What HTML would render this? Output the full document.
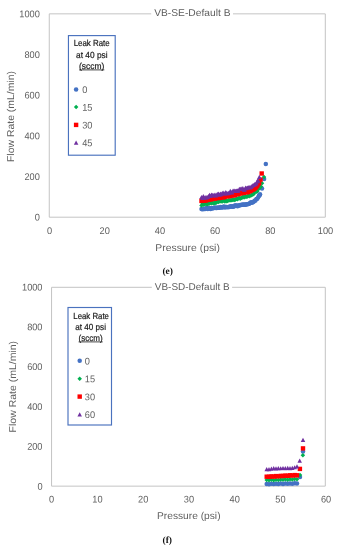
<!DOCTYPE html>
<html><head><meta charset="utf-8"><title>Flow rate charts</title>
<style>
html,body{margin:0;padding:0;background:#fff}
svg{display:block;font-family:"Liberation Sans",sans-serif;text-rendering:geometricPrecision}
</style></head><body>
<svg width="338" height="550" viewBox="0 0 338 550">
<rect width="338" height="550" fill="#fff"/>
<path d="M49.25 217.2V13.85H325.3V217.2H49.25" fill="none" stroke="#c4c4c4" stroke-width="1"/>
<rect x="151.2" y="7.85" width="81.80000000000001" height="10" fill="#fff"/>
<text x="154.2" y="16.3" font-size="9.9" fill="#5e5e5e" textLength="76.3" lengthAdjust="spacingAndGlyphs">VB-SE-Default B</text>
<text transform="translate(39.8 17.2) rotate(0.03) scale(0.95 1)" font-size="9.7" text-anchor="end" fill="#606060">1000</text>
<text transform="translate(39.8 57.9) rotate(0.03) scale(0.95 1)" font-size="9.7" text-anchor="end" fill="#606060">800</text>
<text transform="translate(39.8 98.6) rotate(0.03) scale(0.95 1)" font-size="9.7" text-anchor="end" fill="#606060">600</text>
<text transform="translate(39.8 139.3) rotate(0.03) scale(0.95 1)" font-size="9.7" text-anchor="end" fill="#606060">400</text>
<text transform="translate(39.8 179.9) rotate(0.03) scale(0.95 1)" font-size="9.7" text-anchor="end" fill="#606060">200</text>
<text transform="translate(39.8 220.6) rotate(0.03) scale(0.95 1)" font-size="9.7" text-anchor="end" fill="#606060">0</text>
<text transform="translate(49.5 234.1) rotate(0.03) scale(0.95 1)" font-size="9.7" text-anchor="middle" fill="#606060">0</text>
<text transform="translate(104.7 234.1) rotate(0.03) scale(0.95 1)" font-size="9.7" text-anchor="middle" fill="#606060">20</text>
<text transform="translate(159.9 234.1) rotate(0.03) scale(0.95 1)" font-size="9.7" text-anchor="middle" fill="#606060">40</text>
<text transform="translate(215.1 234.1) rotate(0.03) scale(0.95 1)" font-size="9.7" text-anchor="middle" fill="#606060">60</text>
<text transform="translate(270.3 234.1) rotate(0.03) scale(0.95 1)" font-size="9.7" text-anchor="middle" fill="#606060">80</text>
<text transform="translate(325.5 234.1) rotate(0.03) scale(0.95 1)" font-size="9.7" text-anchor="middle" fill="#606060">100</text>
<text x="187.6" y="250.5" font-size="9.9" text-anchor="middle" fill="#5e5e5e" textLength="64.5" lengthAdjust="spacingAndGlyphs">Pressure (psi)</text>
<text transform="translate(14.4 116.5) rotate(-90)" font-size="9.9" text-anchor="middle" fill="#5e5e5e" textLength="91" lengthAdjust="spacingAndGlyphs">Flow Rate (mL/min)</text>
<circle cx="201.5" cy="208.9" r="2.25" fill="#4472C4"/>
<circle cx="202.4" cy="209.2" r="2.25" fill="#4472C4"/>
<circle cx="203.3" cy="208.9" r="2.25" fill="#4472C4"/>
<circle cx="204.2" cy="209.0" r="2.25" fill="#4472C4"/>
<circle cx="205.1" cy="209.0" r="2.25" fill="#4472C4"/>
<circle cx="206.0" cy="208.2" r="2.25" fill="#4472C4"/>
<circle cx="206.9" cy="208.1" r="2.25" fill="#4472C4"/>
<circle cx="207.8" cy="208.9" r="2.25" fill="#4472C4"/>
<circle cx="208.7" cy="208.2" r="2.25" fill="#4472C4"/>
<circle cx="209.6" cy="208.0" r="2.25" fill="#4472C4"/>
<circle cx="210.5" cy="208.9" r="2.25" fill="#4472C4"/>
<circle cx="211.4" cy="208.1" r="2.25" fill="#4472C4"/>
<circle cx="212.3" cy="208.5" r="2.25" fill="#4472C4"/>
<circle cx="213.2" cy="208.0" r="2.25" fill="#4472C4"/>
<circle cx="214.1" cy="208.1" r="2.25" fill="#4472C4"/>
<circle cx="215.0" cy="207.4" r="2.25" fill="#4472C4"/>
<circle cx="215.9" cy="207.9" r="2.25" fill="#4472C4"/>
<circle cx="216.8" cy="208.1" r="2.25" fill="#4472C4"/>
<circle cx="217.7" cy="207.6" r="2.25" fill="#4472C4"/>
<circle cx="218.6" cy="207.8" r="2.25" fill="#4472C4"/>
<circle cx="219.5" cy="207.7" r="2.25" fill="#4472C4"/>
<circle cx="220.4" cy="206.9" r="2.25" fill="#4472C4"/>
<circle cx="221.3" cy="207.6" r="2.25" fill="#4472C4"/>
<circle cx="222.2" cy="207.4" r="2.25" fill="#4472C4"/>
<circle cx="223.1" cy="206.9" r="2.25" fill="#4472C4"/>
<circle cx="224.0" cy="206.5" r="2.25" fill="#4472C4"/>
<circle cx="224.9" cy="207.4" r="2.25" fill="#4472C4"/>
<circle cx="225.8" cy="206.9" r="2.25" fill="#4472C4"/>
<circle cx="226.7" cy="207.1" r="2.25" fill="#4472C4"/>
<circle cx="227.6" cy="207.2" r="2.25" fill="#4472C4"/>
<circle cx="228.5" cy="206.9" r="2.25" fill="#4472C4"/>
<circle cx="229.4" cy="207.1" r="2.25" fill="#4472C4"/>
<circle cx="230.3" cy="206.3" r="2.25" fill="#4472C4"/>
<circle cx="231.2" cy="206.7" r="2.25" fill="#4472C4"/>
<circle cx="232.1" cy="206.2" r="2.25" fill="#4472C4"/>
<circle cx="233.0" cy="206.7" r="2.25" fill="#4472C4"/>
<circle cx="233.9" cy="206.6" r="2.25" fill="#4472C4"/>
<circle cx="234.8" cy="205.5" r="2.25" fill="#4472C4"/>
<circle cx="235.7" cy="205.5" r="2.25" fill="#4472C4"/>
<circle cx="236.6" cy="205.4" r="2.25" fill="#4472C4"/>
<circle cx="237.5" cy="206.2" r="2.25" fill="#4472C4"/>
<circle cx="238.4" cy="205.4" r="2.25" fill="#4472C4"/>
<circle cx="239.3" cy="205.5" r="2.25" fill="#4472C4"/>
<circle cx="240.2" cy="204.9" r="2.25" fill="#4472C4"/>
<circle cx="241.1" cy="205.0" r="2.25" fill="#4472C4"/>
<circle cx="242.0" cy="204.7" r="2.25" fill="#4472C4"/>
<circle cx="242.9" cy="204.6" r="2.25" fill="#4472C4"/>
<circle cx="243.8" cy="204.7" r="2.25" fill="#4472C4"/>
<circle cx="244.7" cy="204.5" r="2.25" fill="#4472C4"/>
<circle cx="245.6" cy="204.7" r="2.25" fill="#4472C4"/>
<circle cx="246.5" cy="204.2" r="2.25" fill="#4472C4"/>
<circle cx="247.4" cy="204.2" r="2.25" fill="#4472C4"/>
<circle cx="248.3" cy="203.9" r="2.25" fill="#4472C4"/>
<circle cx="249.2" cy="203.8" r="2.25" fill="#4472C4"/>
<circle cx="250.1" cy="203.1" r="2.25" fill="#4472C4"/>
<circle cx="251.0" cy="202.2" r="2.25" fill="#4472C4"/>
<circle cx="251.9" cy="202.8" r="2.25" fill="#4472C4"/>
<circle cx="252.8" cy="202.3" r="2.25" fill="#4472C4"/>
<circle cx="253.7" cy="201.7" r="2.25" fill="#4472C4"/>
<circle cx="254.6" cy="200.7" r="2.25" fill="#4472C4"/>
<circle cx="255.5" cy="200.4" r="2.25" fill="#4472C4"/>
<circle cx="256.4" cy="199.0" r="2.25" fill="#4472C4"/>
<circle cx="257.3" cy="198.7" r="2.25" fill="#4472C4"/>
<circle cx="258.2" cy="197.3" r="2.25" fill="#4472C4"/>
<circle cx="259.1" cy="195.4" r="2.25" fill="#4472C4"/>
<circle cx="260.0" cy="194.3" r="2.25" fill="#4472C4"/>
<circle cx="259.6" cy="195.2" r="2.25" fill="#4472C4"/>
<circle cx="262.0" cy="188.5" r="2.25" fill="#4472C4"/>
<circle cx="264.1" cy="179.1" r="2.25" fill="#4472C4"/>
<circle cx="265.8" cy="164.0" r="2.25" fill="#4472C4"/>
<path d="M201.5 203.2l2.25 2.25l-2.25 2.25l-2.25 -2.25z" fill="#00B050"/>
<path d="M202.4 201.8l2.25 2.25l-2.25 2.25l-2.25 -2.25z" fill="#00B050"/>
<path d="M203.3 202.6l2.25 2.25l-2.25 2.25l-2.25 -2.25z" fill="#00B050"/>
<path d="M204.2 201.9l2.25 2.25l-2.25 2.25l-2.25 -2.25z" fill="#00B050"/>
<path d="M205.1 201.4l2.25 2.25l-2.25 2.25l-2.25 -2.25z" fill="#00B050"/>
<path d="M206.0 201.4l2.25 2.25l-2.25 2.25l-2.25 -2.25z" fill="#00B050"/>
<path d="M206.9 201.9l2.25 2.25l-2.25 2.25l-2.25 -2.25z" fill="#00B050"/>
<path d="M207.8 201.9l2.25 2.25l-2.25 2.25l-2.25 -2.25z" fill="#00B050"/>
<path d="M208.7 200.6l2.25 2.25l-2.25 2.25l-2.25 -2.25z" fill="#00B050"/>
<path d="M209.6 201.2l2.25 2.25l-2.25 2.25l-2.25 -2.25z" fill="#00B050"/>
<path d="M210.5 200.3l2.25 2.25l-2.25 2.25l-2.25 -2.25z" fill="#00B050"/>
<path d="M211.4 201.0l2.25 2.25l-2.25 2.25l-2.25 -2.25z" fill="#00B050"/>
<path d="M212.3 200.3l2.25 2.25l-2.25 2.25l-2.25 -2.25z" fill="#00B050"/>
<path d="M213.2 201.0l2.25 2.25l-2.25 2.25l-2.25 -2.25z" fill="#00B050"/>
<path d="M214.1 201.0l2.25 2.25l-2.25 2.25l-2.25 -2.25z" fill="#00B050"/>
<path d="M215.0 200.2l2.25 2.25l-2.25 2.25l-2.25 -2.25z" fill="#00B050"/>
<path d="M215.9 200.7l2.25 2.25l-2.25 2.25l-2.25 -2.25z" fill="#00B050"/>
<path d="M216.8 199.6l2.25 2.25l-2.25 2.25l-2.25 -2.25z" fill="#00B050"/>
<path d="M217.7 199.2l2.25 2.25l-2.25 2.25l-2.25 -2.25z" fill="#00B050"/>
<path d="M218.6 199.8l2.25 2.25l-2.25 2.25l-2.25 -2.25z" fill="#00B050"/>
<path d="M219.5 198.8l2.25 2.25l-2.25 2.25l-2.25 -2.25z" fill="#00B050"/>
<path d="M220.4 198.9l2.25 2.25l-2.25 2.25l-2.25 -2.25z" fill="#00B050"/>
<path d="M221.3 199.1l2.25 2.25l-2.25 2.25l-2.25 -2.25z" fill="#00B050"/>
<path d="M222.2 199.3l2.25 2.25l-2.25 2.25l-2.25 -2.25z" fill="#00B050"/>
<path d="M223.1 198.5l2.25 2.25l-2.25 2.25l-2.25 -2.25z" fill="#00B050"/>
<path d="M224.0 198.2l2.25 2.25l-2.25 2.25l-2.25 -2.25z" fill="#00B050"/>
<path d="M224.9 199.2l2.25 2.25l-2.25 2.25l-2.25 -2.25z" fill="#00B050"/>
<path d="M225.8 198.3l2.25 2.25l-2.25 2.25l-2.25 -2.25z" fill="#00B050"/>
<path d="M226.7 199.1l2.25 2.25l-2.25 2.25l-2.25 -2.25z" fill="#00B050"/>
<path d="M227.6 198.8l2.25 2.25l-2.25 2.25l-2.25 -2.25z" fill="#00B050"/>
<path d="M228.5 198.0l2.25 2.25l-2.25 2.25l-2.25 -2.25z" fill="#00B050"/>
<path d="M229.4 198.0l2.25 2.25l-2.25 2.25l-2.25 -2.25z" fill="#00B050"/>
<path d="M230.3 197.9l2.25 2.25l-2.25 2.25l-2.25 -2.25z" fill="#00B050"/>
<path d="M231.2 197.9l2.25 2.25l-2.25 2.25l-2.25 -2.25z" fill="#00B050"/>
<path d="M232.1 197.7l2.25 2.25l-2.25 2.25l-2.25 -2.25z" fill="#00B050"/>
<path d="M233.0 197.5l2.25 2.25l-2.25 2.25l-2.25 -2.25z" fill="#00B050"/>
<path d="M233.9 197.5l2.25 2.25l-2.25 2.25l-2.25 -2.25z" fill="#00B050"/>
<path d="M234.8 197.8l2.25 2.25l-2.25 2.25l-2.25 -2.25z" fill="#00B050"/>
<path d="M235.7 197.0l2.25 2.25l-2.25 2.25l-2.25 -2.25z" fill="#00B050"/>
<path d="M236.6 196.7l2.25 2.25l-2.25 2.25l-2.25 -2.25z" fill="#00B050"/>
<path d="M237.5 196.9l2.25 2.25l-2.25 2.25l-2.25 -2.25z" fill="#00B050"/>
<path d="M238.4 196.0l2.25 2.25l-2.25 2.25l-2.25 -2.25z" fill="#00B050"/>
<path d="M239.3 195.8l2.25 2.25l-2.25 2.25l-2.25 -2.25z" fill="#00B050"/>
<path d="M240.2 196.6l2.25 2.25l-2.25 2.25l-2.25 -2.25z" fill="#00B050"/>
<path d="M241.1 195.7l2.25 2.25l-2.25 2.25l-2.25 -2.25z" fill="#00B050"/>
<path d="M242.0 195.5l2.25 2.25l-2.25 2.25l-2.25 -2.25z" fill="#00B050"/>
<path d="M242.9 194.6l2.25 2.25l-2.25 2.25l-2.25 -2.25z" fill="#00B050"/>
<path d="M243.8 194.9l2.25 2.25l-2.25 2.25l-2.25 -2.25z" fill="#00B050"/>
<path d="M244.7 194.9l2.25 2.25l-2.25 2.25l-2.25 -2.25z" fill="#00B050"/>
<path d="M245.6 193.9l2.25 2.25l-2.25 2.25l-2.25 -2.25z" fill="#00B050"/>
<path d="M246.5 194.5l2.25 2.25l-2.25 2.25l-2.25 -2.25z" fill="#00B050"/>
<path d="M247.4 194.3l2.25 2.25l-2.25 2.25l-2.25 -2.25z" fill="#00B050"/>
<path d="M248.3 193.3l2.25 2.25l-2.25 2.25l-2.25 -2.25z" fill="#00B050"/>
<path d="M249.2 193.9l2.25 2.25l-2.25 2.25l-2.25 -2.25z" fill="#00B050"/>
<path d="M250.1 193.3l2.25 2.25l-2.25 2.25l-2.25 -2.25z" fill="#00B050"/>
<path d="M251.0 193.2l2.25 2.25l-2.25 2.25l-2.25 -2.25z" fill="#00B050"/>
<path d="M251.9 192.4l2.25 2.25l-2.25 2.25l-2.25 -2.25z" fill="#00B050"/>
<path d="M252.8 192.3l2.25 2.25l-2.25 2.25l-2.25 -2.25z" fill="#00B050"/>
<path d="M253.7 191.7l2.25 2.25l-2.25 2.25l-2.25 -2.25z" fill="#00B050"/>
<path d="M254.6 190.0l2.25 2.25l-2.25 2.25l-2.25 -2.25z" fill="#00B050"/>
<path d="M255.5 189.3l2.25 2.25l-2.25 2.25l-2.25 -2.25z" fill="#00B050"/>
<path d="M256.4 189.4l2.25 2.25l-2.25 2.25l-2.25 -2.25z" fill="#00B050"/>
<path d="M257.3 188.9l2.25 2.25l-2.25 2.25l-2.25 -2.25z" fill="#00B050"/>
<path d="M258.2 187.0l2.25 2.25l-2.25 2.25l-2.25 -2.25z" fill="#00B050"/>
<path d="M259.1 186.0l2.25 2.25l-2.25 2.25l-2.25 -2.25z" fill="#00B050"/>
<path d="M260.0 185.0l2.25 2.25l-2.25 2.25l-2.25 -2.25z" fill="#00B050"/>
<path d="M260.9 184.3l2.25 2.25l-2.25 2.25l-2.25 -2.25z" fill="#00B050"/>
<path d="M260.2 184.4l2.25 2.25l-2.25 2.25l-2.25 -2.25z" fill="#00B050"/>
<path d="M262.0 181.1l2.25 2.25l-2.25 2.25l-2.25 -2.25z" fill="#00B050"/>
<path d="M264.0 174.7l2.25 2.25l-2.25 2.25l-2.25 -2.25z" fill="#00B050"/>
<rect x="199.3" y="198.7" width="4.4" height="4.4" fill="#FF0000"/>
<rect x="200.2" y="198.6" width="4.4" height="4.4" fill="#FF0000"/>
<rect x="201.1" y="198.6" width="4.4" height="4.4" fill="#FF0000"/>
<rect x="202.0" y="198.1" width="4.4" height="4.4" fill="#FF0000"/>
<rect x="202.9" y="198.0" width="4.4" height="4.4" fill="#FF0000"/>
<rect x="203.8" y="198.2" width="4.4" height="4.4" fill="#FF0000"/>
<rect x="204.7" y="197.3" width="4.4" height="4.4" fill="#FF0000"/>
<rect x="205.6" y="197.7" width="4.4" height="4.4" fill="#FF0000"/>
<rect x="206.5" y="197.6" width="4.4" height="4.4" fill="#FF0000"/>
<rect x="207.4" y="197.0" width="4.4" height="4.4" fill="#FF0000"/>
<rect x="208.3" y="196.7" width="4.4" height="4.4" fill="#FF0000"/>
<rect x="209.2" y="197.1" width="4.4" height="4.4" fill="#FF0000"/>
<rect x="210.1" y="196.4" width="4.4" height="4.4" fill="#FF0000"/>
<rect x="211.0" y="196.2" width="4.4" height="4.4" fill="#FF0000"/>
<rect x="211.9" y="196.2" width="4.4" height="4.4" fill="#FF0000"/>
<rect x="212.8" y="196.4" width="4.4" height="4.4" fill="#FF0000"/>
<rect x="213.7" y="195.6" width="4.4" height="4.4" fill="#FF0000"/>
<rect x="214.6" y="195.7" width="4.4" height="4.4" fill="#FF0000"/>
<rect x="215.5" y="195.5" width="4.4" height="4.4" fill="#FF0000"/>
<rect x="216.4" y="195.9" width="4.4" height="4.4" fill="#FF0000"/>
<rect x="217.3" y="195.3" width="4.4" height="4.4" fill="#FF0000"/>
<rect x="218.2" y="195.6" width="4.4" height="4.4" fill="#FF0000"/>
<rect x="219.1" y="194.7" width="4.4" height="4.4" fill="#FF0000"/>
<rect x="220.0" y="194.7" width="4.4" height="4.4" fill="#FF0000"/>
<rect x="220.9" y="194.9" width="4.4" height="4.4" fill="#FF0000"/>
<rect x="221.8" y="195.0" width="4.4" height="4.4" fill="#FF0000"/>
<rect x="222.7" y="194.4" width="4.4" height="4.4" fill="#FF0000"/>
<rect x="223.6" y="194.0" width="4.4" height="4.4" fill="#FF0000"/>
<rect x="224.5" y="193.7" width="4.4" height="4.4" fill="#FF0000"/>
<rect x="225.4" y="193.9" width="4.4" height="4.4" fill="#FF0000"/>
<rect x="226.3" y="193.4" width="4.4" height="4.4" fill="#FF0000"/>
<rect x="227.2" y="193.9" width="4.4" height="4.4" fill="#FF0000"/>
<rect x="228.1" y="193.7" width="4.4" height="4.4" fill="#FF0000"/>
<rect x="229.0" y="192.9" width="4.4" height="4.4" fill="#FF0000"/>
<rect x="229.9" y="192.8" width="4.4" height="4.4" fill="#FF0000"/>
<rect x="230.8" y="193.2" width="4.4" height="4.4" fill="#FF0000"/>
<rect x="231.7" y="192.9" width="4.4" height="4.4" fill="#FF0000"/>
<rect x="232.6" y="192.8" width="4.4" height="4.4" fill="#FF0000"/>
<rect x="233.5" y="192.2" width="4.4" height="4.4" fill="#FF0000"/>
<rect x="234.4" y="191.7" width="4.4" height="4.4" fill="#FF0000"/>
<rect x="235.3" y="191.7" width="4.4" height="4.4" fill="#FF0000"/>
<rect x="236.2" y="191.9" width="4.4" height="4.4" fill="#FF0000"/>
<rect x="237.1" y="191.2" width="4.4" height="4.4" fill="#FF0000"/>
<rect x="238.0" y="191.0" width="4.4" height="4.4" fill="#FF0000"/>
<rect x="238.9" y="190.9" width="4.4" height="4.4" fill="#FF0000"/>
<rect x="239.8" y="190.7" width="4.4" height="4.4" fill="#FF0000"/>
<rect x="240.7" y="190.4" width="4.4" height="4.4" fill="#FF0000"/>
<rect x="241.6" y="190.7" width="4.4" height="4.4" fill="#FF0000"/>
<rect x="242.5" y="189.7" width="4.4" height="4.4" fill="#FF0000"/>
<rect x="243.4" y="189.4" width="4.4" height="4.4" fill="#FF0000"/>
<rect x="244.3" y="190.1" width="4.4" height="4.4" fill="#FF0000"/>
<rect x="245.2" y="189.8" width="4.4" height="4.4" fill="#FF0000"/>
<rect x="246.1" y="189.7" width="4.4" height="4.4" fill="#FF0000"/>
<rect x="247.0" y="188.8" width="4.4" height="4.4" fill="#FF0000"/>
<rect x="247.9" y="188.9" width="4.4" height="4.4" fill="#FF0000"/>
<rect x="248.8" y="188.4" width="4.4" height="4.4" fill="#FF0000"/>
<rect x="249.7" y="187.3" width="4.4" height="4.4" fill="#FF0000"/>
<rect x="250.6" y="187.3" width="4.4" height="4.4" fill="#FF0000"/>
<rect x="251.5" y="186.9" width="4.4" height="4.4" fill="#FF0000"/>
<rect x="252.4" y="186.2" width="4.4" height="4.4" fill="#FF0000"/>
<rect x="253.3" y="185.5" width="4.4" height="4.4" fill="#FF0000"/>
<rect x="254.2" y="184.3" width="4.4" height="4.4" fill="#FF0000"/>
<rect x="255.1" y="183.4" width="4.4" height="4.4" fill="#FF0000"/>
<rect x="256.0" y="181.8" width="4.4" height="4.4" fill="#FF0000"/>
<rect x="256.9" y="180.4" width="4.4" height="4.4" fill="#FF0000"/>
<rect x="256.7" y="180.9" width="4.4" height="4.4" fill="#FF0000"/>
<rect x="258.3" y="177.4" width="4.4" height="4.4" fill="#FF0000"/>
<rect x="259.5" y="171.3" width="4.4" height="4.4" fill="#FF0000"/>
<path d="M201.5 195.0l2.25 4.1h-4.5z" fill="#7030A0"/>
<path d="M202.4 195.9l2.25 4.1h-4.5z" fill="#7030A0"/>
<path d="M203.3 194.1l2.25 4.1h-4.5z" fill="#7030A0"/>
<path d="M204.2 195.7l2.25 4.1h-4.5z" fill="#7030A0"/>
<path d="M205.1 195.1l2.25 4.1h-4.5z" fill="#7030A0"/>
<path d="M206.0 195.4l2.25 4.1h-4.5z" fill="#7030A0"/>
<path d="M206.9 195.1l2.25 4.1h-4.5z" fill="#7030A0"/>
<path d="M207.8 194.9l2.25 4.1h-4.5z" fill="#7030A0"/>
<path d="M208.7 194.0l2.25 4.1h-4.5z" fill="#7030A0"/>
<path d="M209.6 192.7l2.25 4.1h-4.5z" fill="#7030A0"/>
<path d="M210.5 194.0l2.25 4.1h-4.5z" fill="#7030A0"/>
<path d="M211.4 192.6l2.25 4.1h-4.5z" fill="#7030A0"/>
<path d="M212.3 192.7l2.25 4.1h-4.5z" fill="#7030A0"/>
<path d="M213.2 193.3l2.25 4.1h-4.5z" fill="#7030A0"/>
<path d="M214.1 192.8l2.25 4.1h-4.5z" fill="#7030A0"/>
<path d="M215.0 192.4l2.25 4.1h-4.5z" fill="#7030A0"/>
<path d="M215.9 193.4l2.25 4.1h-4.5z" fill="#7030A0"/>
<path d="M216.8 192.5l2.25 4.1h-4.5z" fill="#7030A0"/>
<path d="M217.7 191.8l2.25 4.1h-4.5z" fill="#7030A0"/>
<path d="M218.6 191.5l2.25 4.1h-4.5z" fill="#7030A0"/>
<path d="M219.5 192.6l2.25 4.1h-4.5z" fill="#7030A0"/>
<path d="M220.4 191.6l2.25 4.1h-4.5z" fill="#7030A0"/>
<path d="M221.3 192.1l2.25 4.1h-4.5z" fill="#7030A0"/>
<path d="M222.2 191.0l2.25 4.1h-4.5z" fill="#7030A0"/>
<path d="M223.1 190.6l2.25 4.1h-4.5z" fill="#7030A0"/>
<path d="M224.0 191.1l2.25 4.1h-4.5z" fill="#7030A0"/>
<path d="M224.9 191.5l2.25 4.1h-4.5z" fill="#7030A0"/>
<path d="M225.8 190.0l2.25 4.1h-4.5z" fill="#7030A0"/>
<path d="M226.7 191.1l2.25 4.1h-4.5z" fill="#7030A0"/>
<path d="M227.6 191.2l2.25 4.1h-4.5z" fill="#7030A0"/>
<path d="M228.5 190.8l2.25 4.1h-4.5z" fill="#7030A0"/>
<path d="M229.4 190.7l2.25 4.1h-4.5z" fill="#7030A0"/>
<path d="M230.3 188.8l2.25 4.1h-4.5z" fill="#7030A0"/>
<path d="M231.2 189.9l2.25 4.1h-4.5z" fill="#7030A0"/>
<path d="M232.1 190.3l2.25 4.1h-4.5z" fill="#7030A0"/>
<path d="M233.0 188.4l2.25 4.1h-4.5z" fill="#7030A0"/>
<path d="M233.9 188.7l2.25 4.1h-4.5z" fill="#7030A0"/>
<path d="M234.8 188.5l2.25 4.1h-4.5z" fill="#7030A0"/>
<path d="M235.7 188.8l2.25 4.1h-4.5z" fill="#7030A0"/>
<path d="M236.6 188.4l2.25 4.1h-4.5z" fill="#7030A0"/>
<path d="M237.5 188.3l2.25 4.1h-4.5z" fill="#7030A0"/>
<path d="M238.4 188.7l2.25 4.1h-4.5z" fill="#7030A0"/>
<path d="M239.3 186.8l2.25 4.1h-4.5z" fill="#7030A0"/>
<path d="M240.2 186.7l2.25 4.1h-4.5z" fill="#7030A0"/>
<path d="M241.1 186.6l2.25 4.1h-4.5z" fill="#7030A0"/>
<path d="M242.0 186.4l2.25 4.1h-4.5z" fill="#7030A0"/>
<path d="M242.9 186.1l2.25 4.1h-4.5z" fill="#7030A0"/>
<path d="M243.8 187.7l2.25 4.1h-4.5z" fill="#7030A0"/>
<path d="M244.7 187.3l2.25 4.1h-4.5z" fill="#7030A0"/>
<path d="M245.6 185.4l2.25 4.1h-4.5z" fill="#7030A0"/>
<path d="M246.5 186.1l2.25 4.1h-4.5z" fill="#7030A0"/>
<path d="M247.4 185.4l2.25 4.1h-4.5z" fill="#7030A0"/>
<path d="M248.3 185.2l2.25 4.1h-4.5z" fill="#7030A0"/>
<path d="M249.2 185.0l2.25 4.1h-4.5z" fill="#7030A0"/>
<path d="M250.1 185.3l2.25 4.1h-4.5z" fill="#7030A0"/>
<path d="M251.0 184.8l2.25 4.1h-4.5z" fill="#7030A0"/>
<path d="M251.9 184.0l2.25 4.1h-4.5z" fill="#7030A0"/>
<path d="M252.8 183.2l2.25 4.1h-4.5z" fill="#7030A0"/>
<path d="M253.7 182.9l2.25 4.1h-4.5z" fill="#7030A0"/>
<path d="M254.6 181.9l2.25 4.1h-4.5z" fill="#7030A0"/>
<path d="M255.5 182.1l2.25 4.1h-4.5z" fill="#7030A0"/>
<path d="M256.4 181.2l2.25 4.1h-4.5z" fill="#7030A0"/>
<path d="M257.3 179.3l2.25 4.1h-4.5z" fill="#7030A0"/>
<path d="M258.2 178.4l2.25 4.1h-4.5z" fill="#7030A0"/>
<path d="M257.5 178.6l2.25 4.1h-4.5z" fill="#7030A0"/>
<path d="M259.3 174.8l2.25 4.1h-4.5z" fill="#7030A0"/>
<rect x="68.45" y="35.6" width="46.75" height="119.6" fill="#fff" stroke="#4a72be" stroke-width="1.15"/>
<text x="73.7" y="46.3" font-size="8.8" fill="#1a1a1a" stroke="#1a1a1a" stroke-width="0.2" textLength="36.0" lengthAdjust="spacingAndGlyphs">Leak Rate</text>
<text x="76.1" y="57.7" font-size="8.8" fill="#1a1a1a" stroke="#1a1a1a" stroke-width="0.2" textLength="31.5" lengthAdjust="spacingAndGlyphs">at 40 psi</text>
<text x="79" y="68.5" font-size="8.8" fill="#1a1a1a" stroke="#1a1a1a" stroke-width="0.2" textLength="25.3" lengthAdjust="spacingAndGlyphs">(sccm)</text>
<path d="M79 69.9H104.3" stroke="#1a1a1a" stroke-width="0.8"/>
<circle cx="76.1" cy="89.5" r="2.25" fill="#4472C4"/>
<text transform="translate(82.2 93.1) rotate(0.03) scale(0.95 1)" font-size="9.7" text-anchor="start" fill="#606060">0</text>
<path d="M76.1 104.8l2.25 2.25l-2.25 2.25l-2.25 -2.25z" fill="#00B050"/>
<text transform="translate(82.2 110.7) rotate(0.03) scale(0.95 1)" font-size="9.7" text-anchor="start" fill="#606060">15</text>
<rect x="73.9" y="122.7" width="4.4" height="4.4" fill="#FF0000"/>
<text transform="translate(82.2 128.5) rotate(0.03) scale(0.95 1)" font-size="9.7" text-anchor="start" fill="#606060">30</text>
<path d="M76.1 140.6l2.25 4.1h-4.5z" fill="#7030A0"/>
<text transform="translate(82.2 146.3) rotate(0.03) scale(0.95 1)" font-size="9.7" text-anchor="start" fill="#606060">45</text>
<text x="167.7" y="273.7" font-size="9.5" font-weight="bold" text-anchor="middle" fill="#111" font-family="'Liberation Serif',serif">(e)</text>
<path d="M51.55 486.15V287.3H325.3V486.15H51.55" fill="none" stroke="#c4c4c4" stroke-width="1"/>
<rect x="151.8" y="281.3" width="80.29999999999998" height="10" fill="#fff"/>
<text x="154.8" y="289.7" font-size="9.9" fill="#5e5e5e" textLength="74.8" lengthAdjust="spacingAndGlyphs">VB-SD-Default B</text>
<text transform="translate(42.5 290.4) rotate(0.03) scale(0.95 1)" font-size="9.7" text-anchor="end" fill="#606060">1000</text>
<text transform="translate(42.5 330.2) rotate(0.03) scale(0.95 1)" font-size="9.7" text-anchor="end" fill="#606060">800</text>
<text transform="translate(42.5 370.1) rotate(0.03) scale(0.95 1)" font-size="9.7" text-anchor="end" fill="#606060">600</text>
<text transform="translate(42.5 410.0) rotate(0.03) scale(0.95 1)" font-size="9.7" text-anchor="end" fill="#606060">400</text>
<text transform="translate(42.5 449.8) rotate(0.03) scale(0.95 1)" font-size="9.7" text-anchor="end" fill="#606060">200</text>
<text transform="translate(42.5 489.7) rotate(0.03) scale(0.95 1)" font-size="9.7" text-anchor="end" fill="#606060">0</text>
<text transform="translate(51.6 502.6) rotate(0.03) scale(0.95 1)" font-size="9.7" text-anchor="middle" fill="#606060">0</text>
<text transform="translate(97.4 502.6) rotate(0.03) scale(0.95 1)" font-size="9.7" text-anchor="middle" fill="#606060">10</text>
<text transform="translate(143.2 502.6) rotate(0.03) scale(0.95 1)" font-size="9.7" text-anchor="middle" fill="#606060">20</text>
<text transform="translate(188.9 502.6) rotate(0.03) scale(0.95 1)" font-size="9.7" text-anchor="middle" fill="#606060">30</text>
<text transform="translate(234.7 502.6) rotate(0.03) scale(0.95 1)" font-size="9.7" text-anchor="middle" fill="#606060">40</text>
<text transform="translate(280.4 502.6) rotate(0.03) scale(0.95 1)" font-size="9.7" text-anchor="middle" fill="#606060">50</text>
<text transform="translate(326.1 502.6) rotate(0.03) scale(0.95 1)" font-size="9.7" text-anchor="middle" fill="#606060">60</text>
<text x="188.8" y="518.7" font-size="9.9" text-anchor="middle" fill="#5e5e5e" textLength="63.5" lengthAdjust="spacingAndGlyphs">Pressure (psi)</text>
<text transform="translate(16.4 386.7) rotate(-90)" font-size="9.9" text-anchor="middle" fill="#5e5e5e" textLength="91.4" lengthAdjust="spacingAndGlyphs">Flow Rate (mL/min)</text>
<circle cx="266.7" cy="483.9" r="2.25" fill="#4472C4"/>
<circle cx="269.0" cy="484.2" r="2.25" fill="#4472C4"/>
<circle cx="271.4" cy="483.8" r="2.25" fill="#4472C4"/>
<circle cx="273.7" cy="484.1" r="2.25" fill="#4472C4"/>
<circle cx="276.0" cy="483.7" r="2.25" fill="#4472C4"/>
<circle cx="278.3" cy="484.0" r="2.25" fill="#4472C4"/>
<circle cx="280.7" cy="483.6" r="2.25" fill="#4472C4"/>
<circle cx="283.0" cy="483.9" r="2.25" fill="#4472C4"/>
<circle cx="285.3" cy="483.5" r="2.25" fill="#4472C4"/>
<circle cx="287.7" cy="483.8" r="2.25" fill="#4472C4"/>
<circle cx="290.0" cy="483.4" r="2.25" fill="#4472C4"/>
<circle cx="292.3" cy="483.7" r="2.25" fill="#4472C4"/>
<circle cx="294.7" cy="483.3" r="2.25" fill="#4472C4"/>
<circle cx="297.0" cy="483.6" r="2.25" fill="#4472C4"/>
<circle cx="300.0" cy="477.0" r="2.25" fill="#4472C4"/>
<circle cx="303.0" cy="451.6" r="2.25" fill="#4472C4"/>
<path d="M266.7 477.8l2.25 2.25l-2.25 2.25l-2.25 -2.25z" fill="#00B050"/>
<path d="M269.0 478.1l2.25 2.25l-2.25 2.25l-2.25 -2.25z" fill="#00B050"/>
<path d="M271.4 477.6l2.25 2.25l-2.25 2.25l-2.25 -2.25z" fill="#00B050"/>
<path d="M273.7 477.9l2.25 2.25l-2.25 2.25l-2.25 -2.25z" fill="#00B050"/>
<path d="M276.0 477.4l2.25 2.25l-2.25 2.25l-2.25 -2.25z" fill="#00B050"/>
<path d="M278.3 477.7l2.25 2.25l-2.25 2.25l-2.25 -2.25z" fill="#00B050"/>
<path d="M280.7 477.2l2.25 2.25l-2.25 2.25l-2.25 -2.25z" fill="#00B050"/>
<path d="M283.0 477.6l2.25 2.25l-2.25 2.25l-2.25 -2.25z" fill="#00B050"/>
<path d="M285.3 477.1l2.25 2.25l-2.25 2.25l-2.25 -2.25z" fill="#00B050"/>
<path d="M287.7 477.4l2.25 2.25l-2.25 2.25l-2.25 -2.25z" fill="#00B050"/>
<path d="M290.0 476.9l2.25 2.25l-2.25 2.25l-2.25 -2.25z" fill="#00B050"/>
<path d="M292.3 477.2l2.25 2.25l-2.25 2.25l-2.25 -2.25z" fill="#00B050"/>
<path d="M294.7 476.7l2.25 2.25l-2.25 2.25l-2.25 -2.25z" fill="#00B050"/>
<path d="M297.0 477.1l2.25 2.25l-2.25 2.25l-2.25 -2.25z" fill="#00B050"/>
<path d="M300.0 472.8l2.25 2.25l-2.25 2.25l-2.25 -2.25z" fill="#00B050"/>
<path d="M302.9 453.1l2.25 2.25l-2.25 2.25l-2.25 -2.25z" fill="#00B050"/>
<rect x="264.5" y="474.5" width="4.4" height="4.4" fill="#FF0000"/>
<rect x="266.8" y="474.6" width="4.4" height="4.4" fill="#FF0000"/>
<rect x="269.2" y="474.2" width="4.4" height="4.4" fill="#FF0000"/>
<rect x="271.5" y="474.4" width="4.4" height="4.4" fill="#FF0000"/>
<rect x="273.8" y="473.9" width="4.4" height="4.4" fill="#FF0000"/>
<rect x="276.1" y="474.1" width="4.4" height="4.4" fill="#FF0000"/>
<rect x="278.5" y="473.7" width="4.4" height="4.4" fill="#FF0000"/>
<rect x="280.8" y="473.8" width="4.4" height="4.4" fill="#FF0000"/>
<rect x="283.1" y="473.4" width="4.4" height="4.4" fill="#FF0000"/>
<rect x="285.5" y="473.6" width="4.4" height="4.4" fill="#FF0000"/>
<rect x="287.8" y="473.1" width="4.4" height="4.4" fill="#FF0000"/>
<rect x="290.1" y="473.3" width="4.4" height="4.4" fill="#FF0000"/>
<rect x="292.5" y="472.9" width="4.4" height="4.4" fill="#FF0000"/>
<rect x="294.8" y="473.1" width="4.4" height="4.4" fill="#FF0000"/>
<rect x="297.7" y="466.7" width="4.4" height="4.4" fill="#FF0000"/>
<rect x="300.8" y="446.2" width="4.4" height="4.4" fill="#FF0000"/>
<path d="M266.7 467.1l2.25 4.1h-4.5z" fill="#7030A0"/>
<path d="M269.0 467.1l2.25 4.1h-4.5z" fill="#7030A0"/>
<path d="M271.4 466.6l2.25 4.1h-4.5z" fill="#7030A0"/>
<path d="M273.7 466.1l2.25 4.1h-4.5z" fill="#7030A0"/>
<path d="M276.0 466.3l2.25 4.1h-4.5z" fill="#7030A0"/>
<path d="M278.3 466.1l2.25 4.1h-4.5z" fill="#7030A0"/>
<path d="M280.7 466.2l2.25 4.1h-4.5z" fill="#7030A0"/>
<path d="M283.0 465.9l2.25 4.1h-4.5z" fill="#7030A0"/>
<path d="M285.3 466.1l2.25 4.1h-4.5z" fill="#7030A0"/>
<path d="M287.7 465.8l2.25 4.1h-4.5z" fill="#7030A0"/>
<path d="M290.0 466.1l2.25 4.1h-4.5z" fill="#7030A0"/>
<path d="M292.3 465.8l2.25 4.1h-4.5z" fill="#7030A0"/>
<path d="M294.7 465.2l2.25 4.1h-4.5z" fill="#7030A0"/>
<path d="M297.0 464.3l2.25 4.1h-4.5z" fill="#7030A0"/>
<path d="M299.7 458.6l2.25 4.1h-4.5z" fill="#7030A0"/>
<path d="M303.0 437.8l2.25 4.1h-4.5z" fill="#7030A0"/>
<rect x="68.0" y="307.5" width="43.5" height="117.5" fill="#fff" stroke="#4a72be" stroke-width="1.15"/>
<text x="73.3" y="318.6" font-size="8.8" fill="#1a1a1a" stroke="#1a1a1a" stroke-width="0.2" textLength="35.6" lengthAdjust="spacingAndGlyphs">Leak Rate</text>
<text x="75.3" y="329.8" font-size="8.8" fill="#1a1a1a" stroke="#1a1a1a" stroke-width="0.2" textLength="30.7" lengthAdjust="spacingAndGlyphs">at 40 psi</text>
<text x="78.6" y="340.5" font-size="8.8" fill="#1a1a1a" stroke="#1a1a1a" stroke-width="0.2" textLength="24.1" lengthAdjust="spacingAndGlyphs">(sccm)</text>
<path d="M78.6 341.9H102.7" stroke="#1a1a1a" stroke-width="0.8"/>
<circle cx="79.7" cy="360.8" r="2.25" fill="#4472C4"/>
<text transform="translate(84.8 364.4) rotate(0.03) scale(0.95 1)" font-size="9.7" text-anchor="start" fill="#606060">0</text>
<path d="M79.7 376.4l2.25 2.25l-2.25 2.25l-2.25 -2.25z" fill="#00B050"/>
<text transform="translate(84.8 382.2) rotate(0.03) scale(0.95 1)" font-size="9.7" text-anchor="start" fill="#606060">15</text>
<rect x="77.5" y="394.4" width="4.4" height="4.4" fill="#FF0000"/>
<text transform="translate(84.8 400.2) rotate(0.03) scale(0.95 1)" font-size="9.7" text-anchor="start" fill="#606060">30</text>
<path d="M79.7 412.3l2.25 4.1h-4.5z" fill="#7030A0"/>
<text transform="translate(84.8 418.0) rotate(0.03) scale(0.95 1)" font-size="9.7" text-anchor="start" fill="#606060">60</text>
<text x="167.3" y="543.3" font-size="9.5" font-weight="bold" text-anchor="middle" fill="#111" font-family="'Liberation Serif',serif">(f)</text>
</svg>
</body></html>
